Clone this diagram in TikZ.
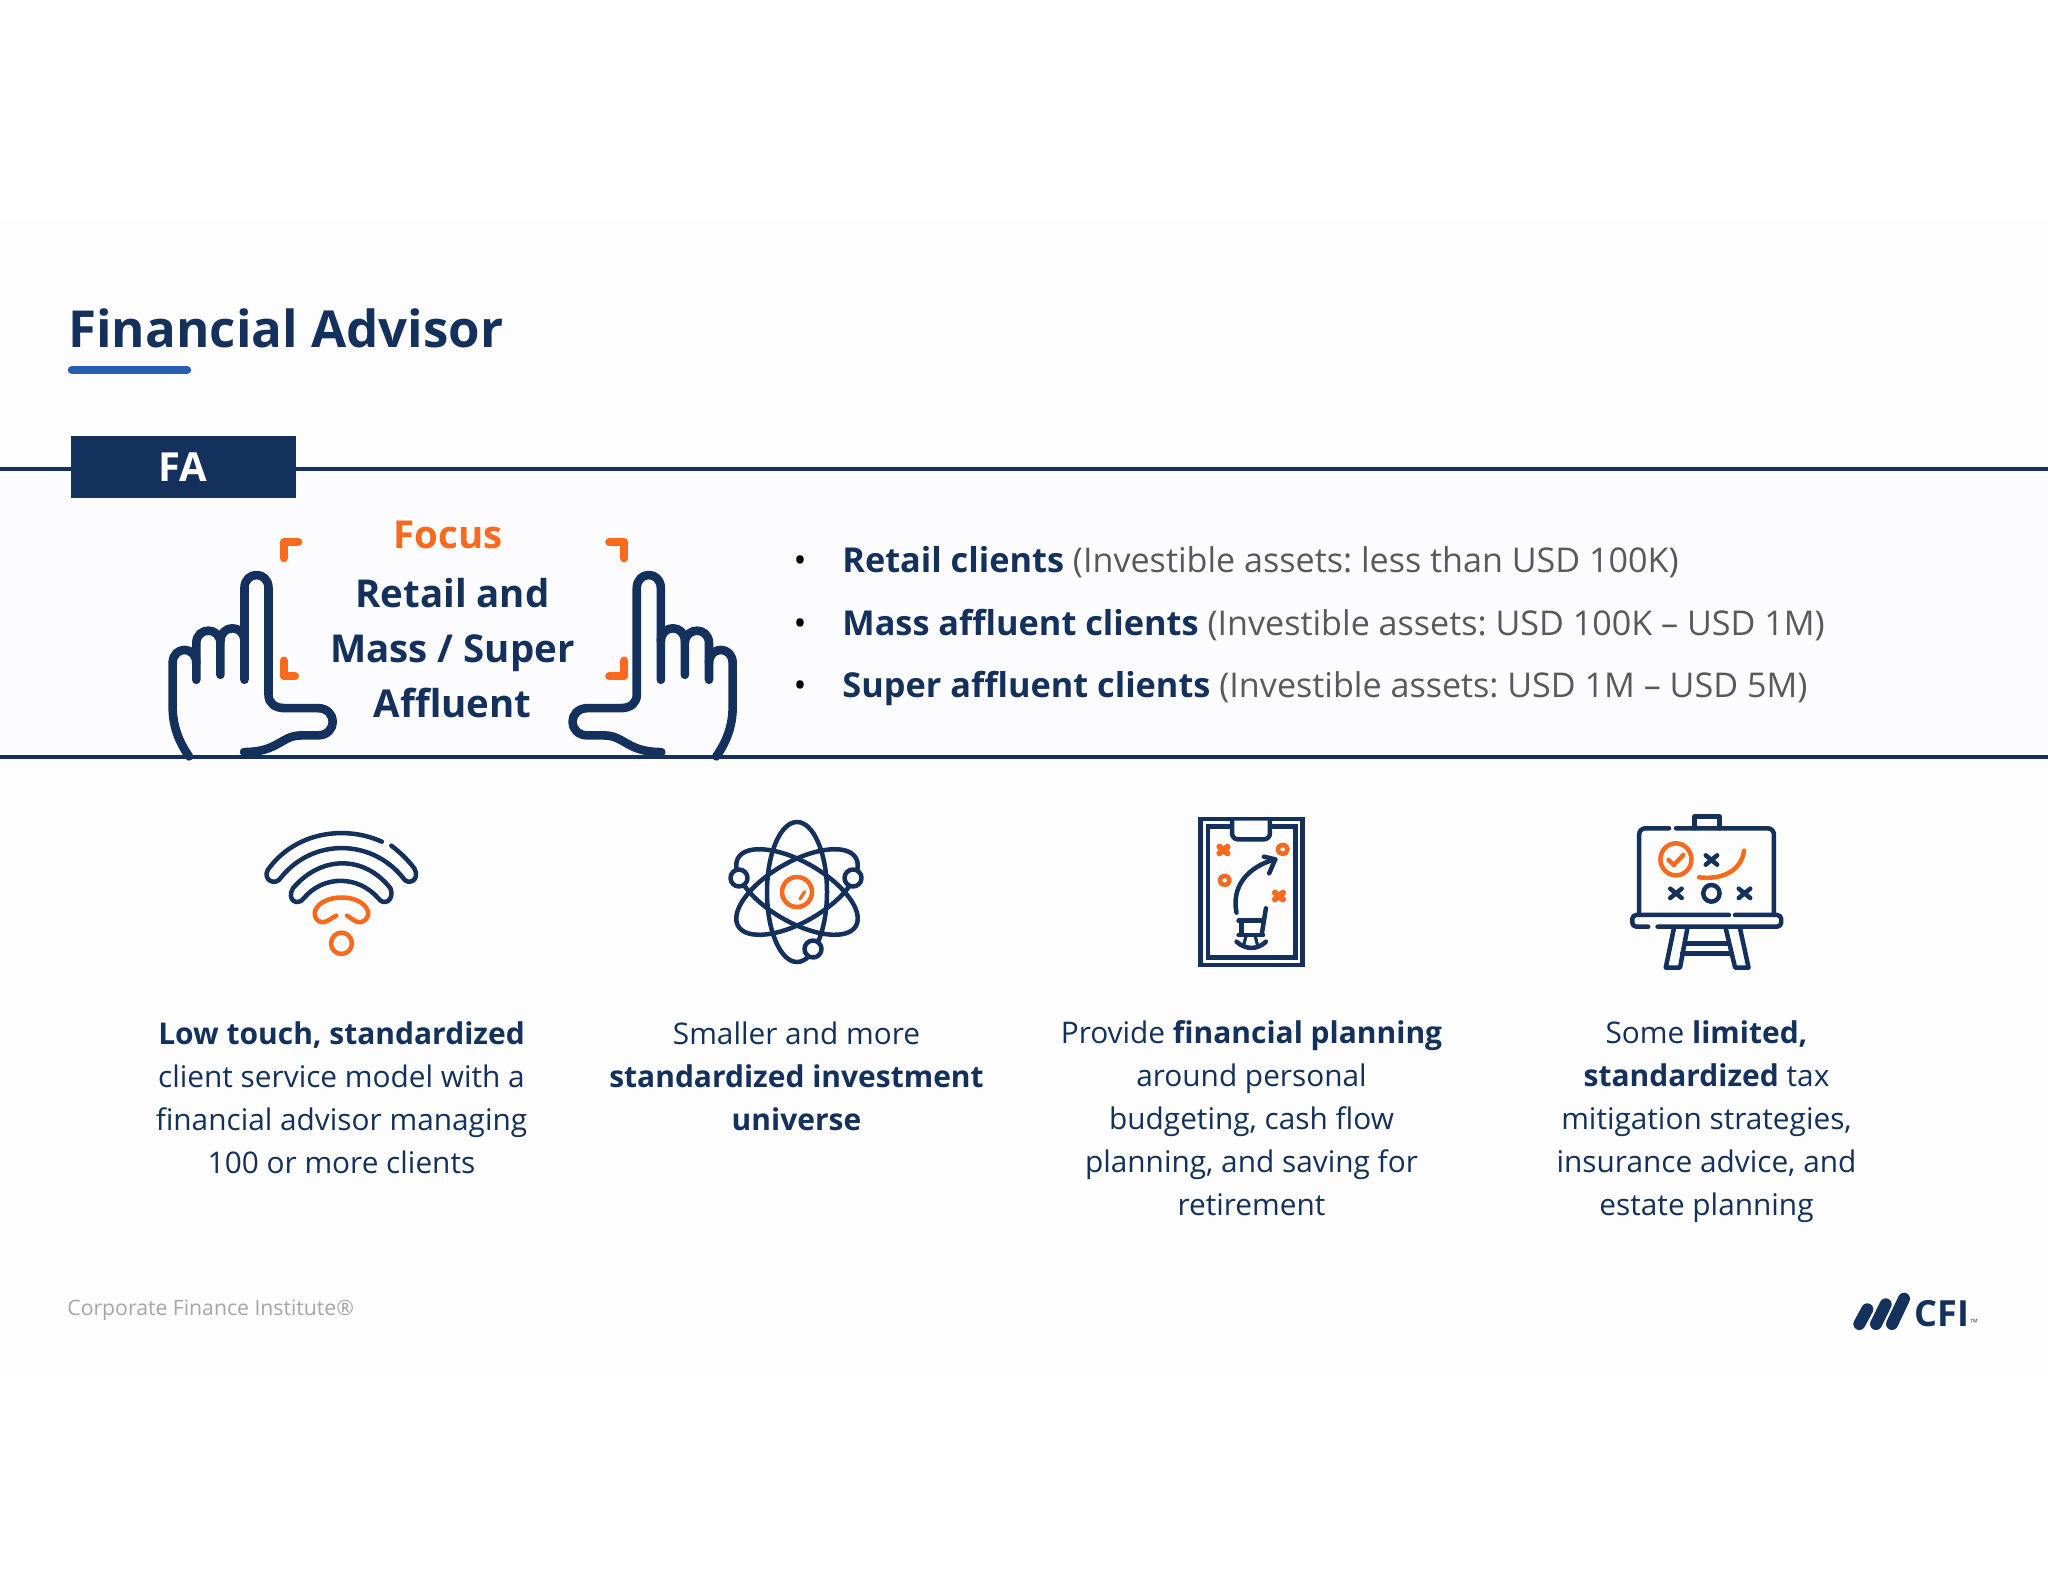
\documentclass[tikz,border=0pt]{standalone}
\usepackage{fontspec}
\setmainfont[BoldFeatures={Scale=1.006}]{Open Sans}
\frenchspacing
\definecolor{navy}{HTML}{14305C}
\definecolor{flame}{HTML}{F96A1E}
\definecolor{slate}{HTML}{595959}
\definecolor{paper}{HTML}{FDFDFE}
\definecolor{bandpaper}{HTML}{FCFCFE}
\definecolor{barblue}{HTML}{2B5BB5}
\tikzset{
    rule/.style={draw=navy, line width=2pt},
    icon/.style={draw=navy, line width=2.25pt, line cap=round, line join=round},
    hot/.style={draw=flame, line width=2.25pt, line cap=round, line join=round},
    hotcross/.style={draw=flame, line width=3pt, line cap=round},
    bracket/.style={draw=flame, line width=4pt, line cap=round, line join=round},
    para/.style={anchor=north, inner sep=0pt, align=center, text=navy, font=\fontsize{14.9}{21.5}\selectfont},
    item/.style={anchor=base west, inner sep=0pt, text=slate, font=\fontsize{17.05}{20}\selectfont},
    dot/.style={anchor=base, inner sep=0pt, text=black, font=\fontsize{17.2}{20}\selectfont},
    hand/.pic={
        \draw[draw=navy, line width=4.3pt, line cap=round, line join=round]
            (120,770) .. controls (95,725) and (80,680) .. (80,620) -- (80,490)
            .. controls (80,437) and (138,437) .. (138,490);
        \draw[draw=navy, line width=4.3pt, line cap=round, line join=round]
            (138,540) -- (138,430) .. controls (138,380) and (197,380) .. (197,430) -- (197,525);
        \draw[draw=navy, line width=4.3pt, line cap=round, line join=round]
            (197,425) .. controls (197,372) and (256,372) .. (256,425);
        \draw[draw=navy, line width=4.3pt, line cap=round, line join=round]
            (256,540) -- (256,265) .. controls (256,212) and (315,212) .. (315,265) -- (315,585)
            .. controls (315,610) and (330,625) .. (355,625) -- (435,625)
            .. controls (485,625) and (485,707) .. (435,707) -- (395,707)
            .. controls (345,707) and (340,757) .. (255,757);
    }
}
\newcommand{\crossmark}[4]{\draw[#3] ($(#1,#2)+(-#4,-#4)$) -- ($(#1,#2)+(#4,#4)$) ($(#1,#2)+(-#4,#4)$) -- ($(#1,#2)+(#4,-#4)$);}
\usetikzlibrary{calc}
\begin{document}
\begin{tikzpicture}[x=0.5pt, y=-0.5pt]
    \useasboundingbox (0,0) rectangle (2048,1582);
    \fill[paper] (0,220) rectangle (2048,1370);
    \fill[bandpaper] (0,469) rectangle (2048,757);

    % heading
    \node[anchor=base west, inner sep=0pt, text=navy, font=\fontsize{25.35}{30}\selectfont\bfseries] (title) at (68,348) {Financial Advisor};
    \draw[draw=barblue, line width=4.2pt, line cap=round] (72,370) -- (187,370);

    % band
    \draw[rule] (0,469) -- (2048,469);
    \node[fill=navy, minimum width=112.5pt, minimum height=31pt, inner sep=0pt, text=white, font=\fontsize{19.9}{22}\selectfont\bfseries] (fa) at (183,467) {FA};

    % hands
    \pic[xscale=0.408, yscale=0.333] at (140,500) {hand};
    \pic[xscale=-0.408, yscale=0.333] at (765.3,500) {hand};
    \draw[rule] (0,757) -- (2048,757);
    \begin{scope}[shift={(140,500)}, xscale=0.408, yscale=0.333]
        \draw[bracket] (352,175) -- (352,127) -- (388,127);
        \draw[bracket] (352,482) -- (352,530) -- (380,530);
        \draw[bracket] (1187,175) -- (1187,127) -- (1150,127);
        \draw[bracket] (1187,482) -- (1187,530) -- (1150,530);
    \end{scope}
    \node[anchor=base, inner sep=0pt, text=flame, font=\fontsize{19.1}{22}\selectfont\bfseries] (focus) at (448,549) {Focus};
    \node[anchor=base, inner sep=0pt, text=navy, font=\fontsize{19.1}{22}\selectfont\bfseries] (seg1) at (452.5,607) {Retail and};
    \node[anchor=base, inner sep=0pt, text=navy, font=\fontsize{19.1}{22}\selectfont\bfseries] (seg2) at (452.5,662) {Mass / Super};
    \node[anchor=base, inner sep=0pt, text=navy, font=\fontsize{19.1}{22}\selectfont\bfseries] (seg3) at (452.5,717) {Affluent};

    % client list
    \node[dot] (dot1) at (800,573) {•};
    \node[dot] (dot2) at (800,635) {•};
    \node[dot] (dot3) at (800,697) {•};
    \node[item] (client1) at (842,573) {\textcolor{navy}{\textbf{Retail clients}} (Investible assets: less than USD 100K)};
    \node[item] (client2) at (842,635) {\textcolor{navy}{\textbf{Mass affluent clients}} (Investible assets: USD 100K – USD 1M)};
    \node[item] (client3) at (842,697) {\textcolor{navy}{\textbf{Super affluent clients}} (Investible assets: USD 1M – USD 5M)};

    % wifi
    \begin{scope}[shift={(230,800)}, xscale=0.4337, yscale=0.3333]
        \draw[icon] (350,125) .. controls (265,75) and (150,95) .. (87,210)
            .. controls (75,240) and (105,260) .. (118,232)
            .. controls (190,115) and (325,115) .. (398,232)
            .. controls (410,260) and (440,240) .. (425,205)
            .. controls (410,180) and (395,160) .. (372,137);
        \draw[icon] (145,265) .. controls (210,165) and (310,165) .. (370,265)
            .. controls (380,300) and (355,320) .. (342,295)
            .. controls (295,225) and (215,225) .. (170,295)
            .. controls (155,320) and (130,300) .. (145,265) -- cycle;
        \draw[hot] (245,347) -- (228,360) .. controls (205,380) and (190,350) .. (197,330)
            .. controls (215,280) and (300,280) .. (317,330)
            .. controls (325,350) and (305,380) .. (285,360) -- (270,347);
        \draw[hot] (257,430) ellipse [x radius=24, y radius=32];
    \end{scope}

    % atom
    \draw[icon] (797,892) ellipse [x radius=30, y radius=70];
    \draw[icon, rotate around={60:(797,892)}] (797,892) ellipse [x radius=30, y radius=68];
    \draw[icon, rotate around={-60:(797,892)}] (797,892) ellipse [x radius=30, y radius=68];
    \draw[icon, fill=paper] (739,878) circle [radius=8.5];
    \draw[icon, fill=paper] (853,878) circle [radius=8.5];
    \draw[icon, fill=paper] (813,949) circle [radius=8.5];
    \draw[hot] (797,892) circle [radius=15];
    \draw[hot, line width=1.6pt] (804.6,891.7) -- (800,899);

    % clipboard
    \begin{scope}[shift={(1170,800)}, xscale=0.408, yscale=0.3333]
        \draw[icon, line cap=butt, line join=miter] (75,57) rectangle (325,495);
        \draw[icon, line cap=butt, line join=miter] (150,80) -- (93,80) -- (93,472) -- (308,472) -- (308,80) -- (247,80);
        \draw[icon, rounded corners=3pt, fill=paper] (152,62) -- (152,118) -- (245,118) -- (245,62);
        \crossmark{131}{150}{hotcross}{10}
        \crossmark{267}{288}{hotcross}{10}
        \draw[hot] (276,148) ellipse [x radius=12, y radius=14];
        \draw[hot] (134,241) ellipse [x radius=12, y radius=14];
        \draw[icon] (163,338) .. controls (150,260) and (190,200) .. (258,178);
        \draw[icon] (230,170) -- (258,178) -- (243,220);
        \draw[icon] (235,325) -- (225,402);
        \draw[icon] (168,362) -- (228,362);
        \draw[icon] (175,362) -- (175,405);
        \draw[icon] (168,405) -- (228,405);
        \draw[icon, line width=1.6pt] (187,405) -- (180,438);
        \draw[icon, line width=1.6pt] (208,405) -- (215,438);
        \draw[icon] (163,425) .. controls (185,450) and (215,450) .. (235,425);
    \end{scope}

    % easel
    \begin{scope}[shift={(1170,800)}, xscale=0.408, yscale=0.3333]
        \draw[icon] (1285,85) -- (1285,50) -- (1347,50) -- (1347,85);
        \draw[icon, rounded corners=3pt] (1223,85) -- (1150,85) -- (1150,345);
        \draw[icon, rounded corners=3pt] (1240,85) -- (1480,85) -- (1480,345);
        \draw[icon, rounded corners=2pt] (1370,345) -- (1133,345) -- (1133,380) -- (1172,380);
        \draw[icon, rounded corners=2pt] (1195,380) -- (1498,380) -- (1498,345) -- (1385,345);
        \draw[icon] (1235,385) -- (1215,503) -- (1250,503) -- (1268,385);
        \draw[icon] (1362,385) -- (1385,503) -- (1418,503) -- (1397,385);
        \draw[icon] (1262,430) -- (1368,430);
        \draw[icon] (1255,460) -- (1375,460);
        \draw[hot] (1240,178) ellipse [x radius=38, y radius=48];
        \draw[hot] (1222,180) -- (1235,195) -- (1258,165);
        \draw[hot] (1297,232) .. controls (1350,240) and (1400,215) .. (1407,152);
        \crossmark{1327}{180}{icon}{14}
        \crossmark{1240}{280}{icon}{14}
        \crossmark{1408}{280}{icon}{14}
        \draw[icon] (1327,280) ellipse [x radius=20, y radius=25];
    \end{scope}

    % columns
    \node[para] (col1) at (341.5,1021) {\textbf{Low touch, standardized}\\client service model with a\\financial advisor managing\\100 or more clients};
    \node[para] (col2) at (796.5,1021) {Smaller and more\\\textbf{standardized investment}\\\textbf{universe}};
    \node[para] (col3) at (1251.5,1020) {Provide \textbf{financial planning}\\around personal\\budgeting, cash flow\\planning, and saving for\\retirement};
    \node[para] (col4) at (1706.5,1020) {Some \textbf{limited,}\\\textbf{standardized} tax\\mitigation strategies,\\insurance advice, and\\estate planning};

    % footer
    \node[anchor=base west, inner sep=0pt, text=black!35, font=\fontsize{10.6}{13}\selectfont] (footer) at (67,1315) {Corporate Finance Institute®};
    \draw[navy, line width=6pt, line cap=round] (1859.3,1324) -- (1867.3,1309.3);
    \draw[navy, line width=6pt, line cap=round] (1876,1324) -- (1885.7,1304.3);
    \draw[navy, line width=6pt, line cap=round] (1892,1324) -- (1904,1298.7);
    \node[anchor=base west, inner sep=0pt, text=navy, font=\fontsize{17.9}{20}\selectfont\bfseries] (cfi) at (1914,1326) {CFI};
    \node[anchor=base west, inner sep=0pt, text=slate, font=\fontsize{5}{6}\selectfont] (tm) at (1970,1326) {™};
\end{tikzpicture}
\end{document}
